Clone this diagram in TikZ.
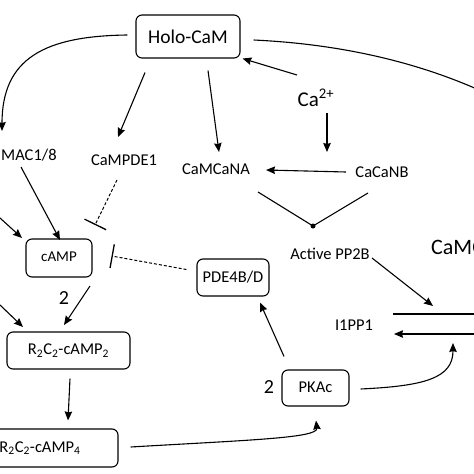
\documentclass[tikz,border=0pt]{standalone}
\usepackage{fontspec}
\setmainfont{Carlito}
\usetikzlibrary{arrows.meta,calc}
\begin{document}
\begin{tikzpicture}[x=1pt,y=-1pt,
  every node/.style={font=\fontsize{16.5}{18}\selectfont, inner sep=0pt},
  box/.style={draw, rounded corners=6pt, line width=1.1pt},
  conn/.style={line width=1.1pt},
  arr/.style={line width=1.1pt, -{Stealth[length=9pt,width=7.5pt,inset=1pt]}},
  inh/.style={line width=1pt, dash pattern=on 3pt off 2pt, -{Bar[width=24pt,line width=1.3pt]}},
  big/.style={font=\fontsize{20}{22}\selectfont}
]
\useasboundingbox (0,0) rectangle (474,474);
\clip (0,0) rectangle (474,474);

% boxes
\node[box, minimum width=104pt, minimum height=43pt, font=\fontsize{19.5}{22}\selectfont] (holo) at (188,36.5) {Holo-CaM};
\node[box, minimum width=66pt, minimum height=38pt, font=\fontsize{15}{17}\selectfont] (camp) at (59,258) {\raisebox{3pt}{cAMP}};
\node[box, minimum width=123pt, minimum height=37pt] (r2) at (68.5,350.5) {\raisebox{-3pt}{R\textsubscript{2}C\textsubscript{2}-cAMP\textsubscript{2}}};
\node[box, minimum width=156pt, minimum height=38pt] (r4) at (40,448) {R\textsubscript{2}C\textsubscript{2}-cAMP\textsubscript{4}};
\node[box, minimum width=72pt, minimum height=37pt] (pde) at (233,277.5) {PDE4B/D};
\node[box, minimum width=67pt, minimum height=36pt] (pkac) at (315.5,388) {\raisebox{2pt}{PKAc}};

% labels
\node[anchor=west] (mac) at (1,155) {MAC1/8};
\node (campde) at (124,160) {CaMPDE1};
\node (camcana) at (216,169) {CaMCaNA};
\node[font=\fontsize{21}{24}\selectfont] (ca) at (316,98) {Ca\textsuperscript{2+}};
\node (cacanb) at (382,172) {CaCaNB};
\node (pp2b) at (330,254) {Active PP2B};
\node (i1pp1) at (354,325) {I1PP1};
\node[anchor=west, font=\fontsize{22}{24}\selectfont] (camc) at (431,247) {CaMC};
\node[big] (n2a) at (64,298) {2};
\node[big] (n2b) at (269,387) {2};
\node[fill, circle, minimum size=5pt] (dot) at (313,226) {};

% free ends
\coordinate (macin) at (2,131);
\coordinate (lcamp) at (0,218);
\coordinate (lr2) at (0,305);
\coordinate (cain) at (327,152);
\coordinate (eqtop) at (433,306);
\coordinate (equp) at (453,343);
\coordinate (eqL1) at (393,314);
\coordinate (eqR1) at (480,314);
\coordinate (eqL2) at (394,334);
\coordinate (eqR2) at (480,334);
\coordinate (rend) at (490,95);

% connectors
\draw[arr] ($(holo.west)+(-8,-1.5)$) .. controls (45,36) and (2,58) .. (macin);
\draw[conn] ($(holo.east)+(13,3.5)$) .. controls (340,44) and (420,62) .. (rend);
\draw[arr] ($(holo.south)+(-43,14)$) -- ($(campde)+(-6,-23)$);
\draw[arr] ($(holo.south)+(20,12)$) -- ($(camcana)+(3,-17)$);
\draw[arr] ($(ca)+(-19,-23)$) -- ($(holo.south east)+(2,0)$);
\draw[arr] ($(ca)+(11,15)$) -- (cain);
\draw[arr] ($(cacanb)+(-36,0)$) -- ($(camcana)+(50,1)$);
\draw[conn] ($(camcana)+(42,23)$) -- (dot.center) -- ($(cacanb)+(-14,21)$);
\draw[arr] ($(mac.west)+(20,12)$) -- ($(camp)+(1,-18)$);
\draw[arr] (lcamp) -- ($(camp)+(-37,-20)$);
\draw[inh] ($(campde)+(-7,20)$) -- ($(camp)+(36,-33)$);
\draw[inh] ($(pde.west)+(-10,-8)$) -- ($(camp.east)+(19,-2)$);
\draw[arr] ($(camp)+(31,28)$) -- ($(r2)+(-4.5,-25.5)$);
\draw[arr] (lr2) -- ($(r2)+(-45.5,-23.5)$);
\draw[arr] ($(r2.south)+(1.5,9)$) -- ($(r4.north)+(28,-8)$);
\draw[arr] ($(r4.east)+(12,-1)$) .. controls (250,440) and (318,438) .. ($(pkac.south)+(0.5,14)$);
\draw[arr] ($(pkac.north)+(-31.5,-13)$) -- ($(pde.south)+(27,6)$);
\draw[arr] ($(pkac.east)+(11,1)$) .. controls (425,386) and (453,378) .. (equp);
\draw[arr] ($(pp2b)+(42,4)$) -- (eqtop);
\draw[conn] (eqL1) -- (eqR1);
\draw[arr] (eqR2) -- (eqL2);
\end{tikzpicture}
\end{document}
